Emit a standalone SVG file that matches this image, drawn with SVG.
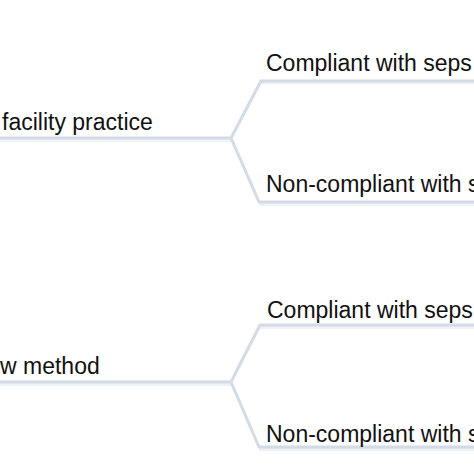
<svg xmlns="http://www.w3.org/2000/svg" width="474" height="474" viewBox="0 0 474 474">
  <style>
    .lbl { font-family: "Liberation Sans", Arial, sans-serif; font-size: 23px; fill: #111111; }
    .ln { fill: none; stroke: #d3dbe6; stroke-width: 3; stroke-linejoin: round; }
    .sh { fill: none; stroke: #eef1f5; stroke-width: 3; }
  </style>
  <rect width="474" height="474" fill="#ffffff"/>
  <g id="connectors">
    <path class="sh" d="M0 140.5 H231 M261 82.5 H474 M259 204.5 H474"/>
    <path class="ln" d="M0 138 H231 L261 81 H474 M231 138 L259 202 H474"/>
    <path class="sh" d="M0 384.5 H231 M260 327.5 H474 M259 449.5 H474"/>
    <path class="ln" d="M0 382 H231 L260 325 H474 M231 382 L259 447 H474"/>
  </g>
  <g id="root1"><text class="lbl" x="2" y="130">facility practice</text></g>
  <g id="leaf1a"><text class="lbl" x="266" y="71">Compliant with seps</text></g>
  <g id="leaf1b"><text class="lbl" x="266" y="192">Non-compliant with s</text></g>
  <g id="root2"><text class="lbl" x="0" y="374">w method</text></g>
  <g id="leaf2a"><text class="lbl" x="267" y="318">Compliant with seps</text></g>
  <g id="leaf2b"><text class="lbl" x="266" y="442">Non-compliant with s</text></g>
</svg>
